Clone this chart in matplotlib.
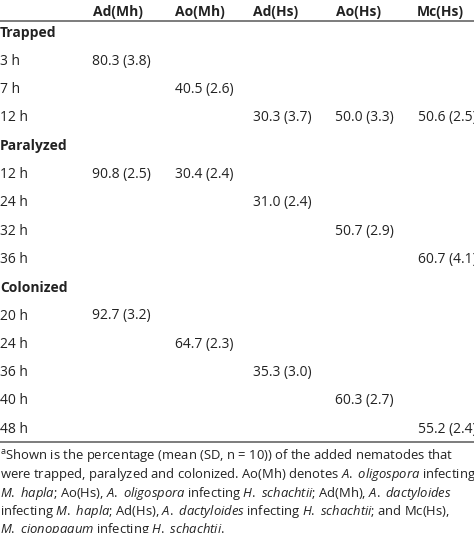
import matplotlib.pyplot as plt

plt.rcParams['font.family'] = 'Open Sans'
plt.rcParams['mathtext.fontset'] = 'custom'
plt.rcParams['mathtext.rm'] = 'Open Sans'
plt.rcParams['mathtext.it'] = 'Open Sans:italic'

columns = ['Ad(Mh)', 'Ao(Mh)', 'Ad(Hs)', 'Ao(Hs)', 'Mc(Hs)']
col_x = [118, 200, 276, 358, 440]
val_x = [92, 175, 253, 335, 418]

# (label, bold, {column index: value})
rows = [
    ('Trapped', True, {}),
    ('3 h', False, {0: '80.3 (3.8)'}),
    ('7 h', False, {1: '40.5 (2.6)'}),
    ('12 h', False, {2: '30.3 (3.7)', 3: '50.0 (3.3)', 4: '50.6 (2.5)'}),
    ('Paralyzed', True, {}),
    ('12 h', False, {0: '90.8 (2.5)', 1: '30.4 (2.4)'}),
    ('24 h', False, {2: '31.0 (2.4)'}),
    ('32 h', False, {3: '50.7 (2.9)'}),
    ('36 h', False, {4: '60.7 (4.1)'}),
    ('Colonized', True, {}),
    ('20 h', False, {0: '92.7 (3.2)'}),
    ('24 h', False, {1: '64.7 (2.3)'}),
    ('36 h', False, {2: '35.3 (3.0)'}),
    ('40 h', False, {3: '60.3 (2.7)'}),
    ('48 h', False, {4: '55.2 (2.4)'}),
]

footnote = [
    r'$^{\mathrm{a}}$Shown is the percentage (mean (SD, n = 10)) of the added nematodes that',
    r'were trapped, paralyzed and colonized. Ao(Mh) denotes $\mathit{A.\ oligospora}$ infecting',
    r'$\mathit{M.\ hapla}$; Ao(Hs), $\mathit{A.\ oligospora}$ infecting $\mathit{H.\ schachtii}$; Ad(Mh), $\mathit{A.\ dactyloides}$',
    r'infecting $\mathit{M.\ hapla}$; Ad(Hs), $\mathit{A.\ dactyloides}$ infecting $\mathit{H.\ schachtii}$; and Mc(Hs),',
    r'$\mathit{M.\ cionopaqum}$ infecting $\mathit{H.\ schachtii}$.',
]

W, H = 474, 533
fig = plt.figure(figsize=(W / 100, H / 100), dpi=100)

def put(x, y, s, size=10, **kw):
    fig.text(x / W, 1 - y / H, s, va='center', fontsize=size, color='#222222', **kw)

for name, x in zip(columns, col_x):
    put(x, 12, name, ha='center', fontweight='bold')

fig.add_artist(plt.Line2D([0, 1], [1 - 21 / H] * 2, color='#666666', lw=1.2))

y = 33
for label, bold, vals in rows:
    put(0, y, label, ha='left', fontweight='bold' if bold else 'normal')
    for i, v in vals.items():
        put(val_x[i], y, v, ha='left')
    y += 28.3

fig.add_artist(plt.Line2D([0, 1], [1 - 442 / H] * 2, color='#666666', lw=1.2))

for k, line in enumerate(footnote):
    put(0, 456 + k * 18.5, line, size=9.4, ha='left')

fig.savefig('out.png', dpi=100)
